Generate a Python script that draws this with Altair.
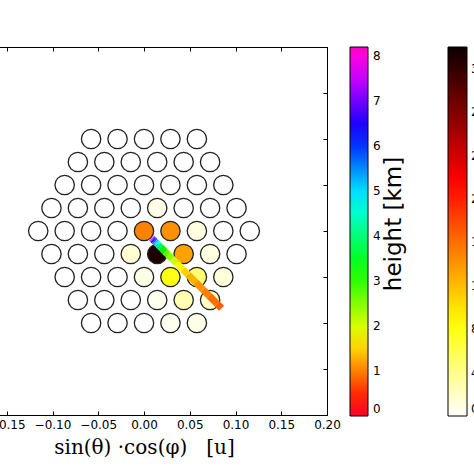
import altair as alt
import pandas as pd

# Camera layout: nine pixel rows (top to bottom), centre pitch in [u]
row_y = [0.1, 0.075, 0.05, 0.025, 0.0, -0.025, -0.05, -0.075, -0.1]
row_counts = [5, 6, 7, 8, 9, 8, 7, 6, 5]
pitch = 0.0289

# Signal per pixel, row by row from the top, left to right
row_signal = [
    [0, 0, 0, 0, 0],
    [0, 0, 0, 0, 0, 0],
    [0, 0, 0, 0, 0, 0, 0],
    [0, 0, 0, 0, 0.8, 0, 0, 0],
    [0, 0, 0, 0, 15.0, 14.2, 1.0, 0, 0],
    [0, 0, 0, 1.5, 33.0, 13.4, 1.0, 0],
    [0, 0, 0, 0.8, 8.0, 4.8, 1.2],
    [0, 0, 0, 0.5, 2.6, 1.7],
    [0, 0, 0, 0.5, 0.7],
]

# Projected shower axis: positions in [u] and emission height in km
track_x = [0.0084, 0.0090, 0.0096, 0.0104, 0.0112, 0.0123, 0.0135, 0.0150, 0.0169,
           0.0193, 0.0225, 0.0260, 0.0308, 0.0357, 0.0423, 0.0484, 0.0565, 0.0646,
           0.0714, 0.0798, 0.0848]
track_y = [-0.0079, -0.0085, -0.0091, -0.0098, -0.0107, -0.0117, -0.0130, -0.0145, -0.0163,
           -0.0188, -0.0220, -0.0255, -0.0302, -0.0351, -0.0417, -0.0478, -0.0558, -0.0639,
           -0.0706, -0.0790, -0.0840]
track_h = [8.0, 7.5, 7.0, 6.5, 6.0, 5.5, 5.0, 4.5, 4.0, 3.5, 3.0, 2.6, 2.2, 1.9, 1.6,
           1.4, 1.2, 1.05, 0.95, 0.85, 0.8]

axis_ticks = [-0.2, -0.15, -0.1, -0.05, 0.0, 0.05, 0.1, 0.15, 0.2]
height_ticks = [0, 1, 2, 3, 4, 5, 6, 7, 8]
signal_ticks = [0, 4, 8, 12, 16, 20, 24, 28, 32]
height_title = ["height [km]"]

# hot_r colour map (white -> yellow -> red -> black)
signal_max = 34.0
hot_domain = [0, 0.254 * signal_max, 0.635 * signal_max, signal_max]
hot_range = ["#ffffff", "#ffff00", "#ff0000", "#0b0000"]

# gist_rainbow colour map for height
height_max = 8.2
rainbow_stops = [0.0, 0.03, 0.215, 0.4, 0.586, 0.77, 0.954, 1.0]
rainbow_domain = [s * height_max for s in rainbow_stops]
rainbow_range = ["#ff0029", "#ff0000", "#ffff00", "#00ff00", "#00ffff",
                 "#0000ff", "#ff00ff", "#ff00bf"]

pix_rows = []
for y, n, vals in zip(row_y, row_counts, row_signal):
    for i, v in enumerate(vals):
        pix_rows.append({"x": (i - (n - 1) / 2) * pitch, "y": y, "signal": v})
pixels = pd.DataFrame(pix_rows)

segments = pd.DataFrame({
    "x": track_x[:-1], "y": track_y[:-1],
    "x2": track_x[1:], "y2": track_y[1:],
    "h": [(a + b) / 2 for a, b in zip(track_h[:-1], track_h[1:])],
})

xs = alt.Scale(domain=[-0.2, 0.2], nice=False, zero=False)
ys = alt.Scale(domain=[-0.2, 0.2], nice=False, zero=False)

tick_common = dict(values=axis_ticks, tickSize=4, offset=-4, domain=False, grid=False,
                   tickColor="black", tickWidth=1)

nb = "\u00a0"
x_bottom = alt.Axis(orient="bottom", format=".2f", labelPadding=4, labelFontSize=12,
                    labelFont="DejaVu Sans", labelColor="black", labelFlush=False,
                    title=f"sin(θ){nb}·cos(φ){nb}{nb}{nb}[u]", titleFont="DejaVu Serif",
                    titleFontSize=20, titleFontWeight="normal", titleColor="black",
                    titlePadding=7, **tick_common)
y_left = alt.Axis(orient="left", format=".2f", labelFontSize=12, labelColor="black",
                  title=None, **tick_common)
x_top = alt.Axis(orient="top", labels=False, title=None, **tick_common)
y_right = alt.Axis(orient="right", labels=False, title=None, **tick_common)

circles = alt.Chart(pixels).mark_circle(
    size=375, stroke="#222222", strokeWidth=1.3, opacity=1
).encode(
    x=alt.X("x:Q", scale=xs, axis=x_bottom),
    y=alt.Y("y:Q", scale=ys, axis=y_left),
    fill=alt.Fill("signal:Q",
                  scale=alt.Scale(domain=hot_domain, range=hot_range, interpolate="rgb"),
                  legend=alt.Legend(orient="none", legendX=487, legendY=0,
                                    direction="vertical", gradientLength=369,
                                    gradientThickness=19, values=signal_ticks, title=None,
                                    labelFontSize=12, labelColor="black",
                                    labelBaseline="middle", labelOffset=4, padding=0,
                                    gradientStrokeColor="black", gradientStrokeWidth=1)),
)

track = alt.Chart(segments).mark_rule(strokeWidth=7, strokeCap="butt", opacity=1).encode(
    x=alt.X("x:Q", scale=xs, axis=None),
    y=alt.Y("y:Q", scale=ys, axis=None),
    x2="x2:Q",
    y2="y2:Q",
    stroke=alt.Stroke("h:Q",
                      scale=alt.Scale(domain=rainbow_domain, range=rainbow_range,
                                      interpolate="rgb"),
                      legend=alt.Legend(orient="none", legendX=389, legendY=0,
                                        direction="vertical", gradientLength=369,
                                        gradientThickness=18, values=height_ticks,
                                        title=None,
                                        labelFontSize=12, labelColor="black",
                                        labelBaseline="middle", labelOffset=5, padding=0,
                                        gradientStrokeColor="black",
                                        gradientStrokeWidth=1)),
)

frame_axes = alt.Chart(pixels).mark_point(opacity=0).encode(
    x=alt.X("x:Q", scale=xs, axis=x_top),
    y=alt.Y("y:Q", scale=ys, axis=y_right),
)

# colour-bar caption for the height scale, reading bottom to top
caption = alt.Chart(pd.DataFrame({"label": height_title})).mark_text(
    angle=270, font="DejaVu Sans", fontSize=23, color="black",
    align="center", baseline="middle"
).encode(
    text="label:N",
    x=alt.value(433),
    y=alt.value(177),
)

chart = alt.layer(circles, track, frame_axes, caption).resolve_axis(
    x="independent", y="independent"
).properties(
    width=366,
    height=368,
    autosize=alt.AutoSizeParams(type="none"),
    padding={"left": -39, "top": 47, "right": 147, "bottom": 59},
    background="white",
).configure_view(
    stroke="black", strokeWidth=1
).configure_legend(
    gradientVerticalMaxLength=400, labelFont="DejaVu Sans"
).configure_axis(
    labelFont="DejaVu Sans"
)

chart.save("out.html", embed_options={"renderer": "svg", "actions": False})
